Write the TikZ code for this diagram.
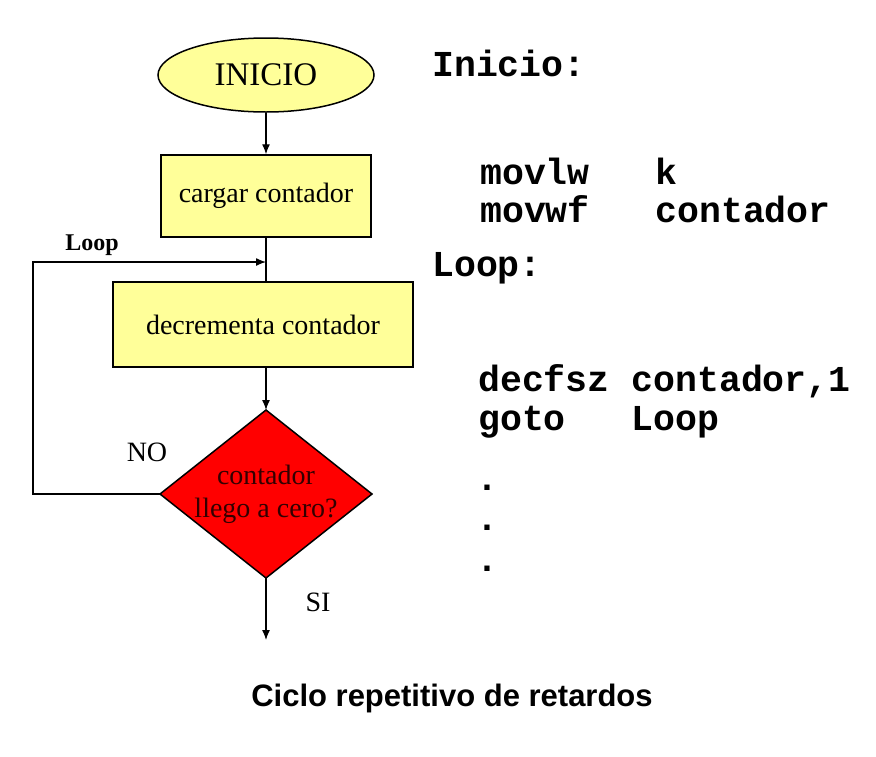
\documentclass[tikz,border=0pt]{standalone}
\usepackage{fontspec}
\setmainfont{Liberation Serif}
\newfontfamily\codef{Liberation Mono}
\newfontfamily\capf{Liberation Sans}
\usetikzlibrary{shapes.geometric,arrows.meta}
\definecolor{lyel}{RGB}{255,255,153}
\definecolor{dred}{RGB}{255,0,0}
\begin{document}
\begin{tikzpicture}[x=1pt,y=-1pt,
  box/.style={draw=black,line width=1.5pt,fill=lyel,font=\fontsize{28}{32}\selectfont},
  arr/.style={line width=1.3pt,-{Latex[length=10pt,width=8pt]}},
  ln/.style={line width=1.5pt},
  code/.style={anchor=base west,font=\codef\bfseries\fontsize{36.5}{40}\selectfont,inner sep=0},
  lab/.style={font=\fontsize{28}{32}\selectfont,inner sep=0}]
\useasboundingbox (0,0) rectangle (876,756);
\node[box,ellipse,minimum width=216pt,minimum height=74pt,font=\fontsize{33}{36}\selectfont] (ini) at (266,75) {INICIO};
\node[box,minimum width=210pt,minimum height=82pt] (b1) at (266,196) {cargar contador};
\node[box,minimum width=300pt,minimum height=85pt] (b2) at (263,324.5) {decrementa contador};
\coordinate (dt) at (266,410);
\coordinate (db) at (266,578);
\coordinate (dl) at (160,494);
\coordinate (dr) at (372,494);
\draw[line width=1.5pt,fill=dred] (dt) -- (dr) -- (db) -- (dl) -- cycle;
\node[font=\fontsize{28}{33}\selectfont,align=center,text=black!80!red,inner sep=0] (d) at (266,494) {contador\\llego a cero?};
\coordinate (j) at (266,262);
\coordinate (c1) at (33,494);
\coordinate (c2) at (33,262);
\coordinate (end) at (266,640);
\draw[arr] (ini.south) -- (b1.north);
\draw[ln] (b1.south) -- (b1.south |- b2.north);
\draw[arr] (dl) -- (c1) -- (c2) -- (j);
\draw[arr] (b1.south |- b2.south) -- (dt);
\draw[arr] (db) -- (end);
\node[lab,font=\bfseries\fontsize{24}{28}\selectfont] (lp) at (92,245) {Loop};
\node[lab] (no) at (147,452) {NO};
\node[lab] (si) at (318,602) {SI};
\node[code] (t1) at (432,76) {Inicio:};
\node[code] (t2) at (480,184) {movlw\ \ \ k};
\node[code] (t3) at (480,222) {movwf\ \ \ contador};
\node[code] (t4) at (432,276) {Loop:};
\node[code] (t5) at (478,391) {decfsz contador,1};
\node[code] (t6) at (478,430) {goto\ \ \ Loop};
\node[code] (t7) at (476,490) {.};
\node[code] (t8) at (476,530) {.};
\node[code] (t9) at (476,571) {.};
\node[font=\capf\bfseries\fontsize{31}{34}\selectfont] (cap) at (452,698) {Ciclo repetitivo de retardos};
\end{tikzpicture}
\end{document}
